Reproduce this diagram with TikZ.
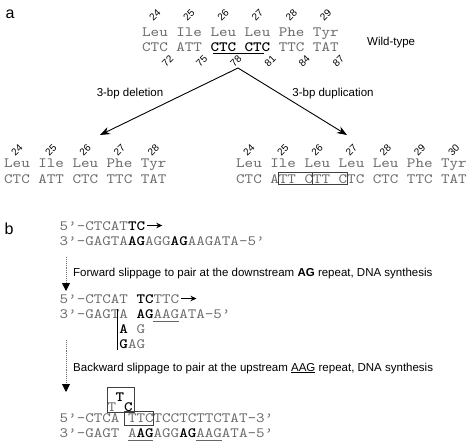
\documentclass[tikz,border=0pt]{standalone}
\usepackage{fontspec}
\setmainfont{Liberation Sans}
\newfontfamily\monof[Extension=.otf, UprightFont=lmmono10-regular, BoldFont=lmmonolt10-bold, FakeStretch=1.1455]{lmmono10-regular}
\usetikzlibrary{arrows.meta}
\def\cw{8.54}
\newcommand\bk[1]{\textbf{\color{black}#1}}
\tikzset{
  seq/.style={inner sep=0, anchor=base west, font=\monof\fontsize{14.2}{16}\selectfont, text=black!58},
  num/.style={inner sep=0, font=\fontsize{10}{12}\selectfont, rotate=45},
  lab/.style={inner sep=0, anchor=base west, font=\fontsize{11.5}{13}\selectfont},
  biglab/.style={inner sep=0, font=\fontsize{16}{18}\selectfont},
  mut/.style={-{Stealth[length=10pt,width=7.5pt]}, line width=0.9pt},
  slip/.style={densely dotted, line width=0.9pt, draw=black!55, -{Triangle[length=8pt,width=8pt,color=black]}},
  fwd/.style={-{Stealth[length=6pt,width=5.5pt]}, line width=0.9pt},
  boxed/.style={draw=black!75, line width=0.9pt},
  uline/.style={draw=black!60, line width=0.7pt}
}
\begin{document}
\begin{tikzpicture}[x=1pt,y=-1pt]
\useasboundingbox (0,0) rectangle (474,447);
% ---------- part a ----------
\node[biglab] (la) at (10,14) {a};
\foreach \n [count=\i from 0] in {24,25,26,27,28,29}
  \node[num] (ta\n) at ({142+(4*\i+1.5)*\cw},15) {\n};
\node[seq] (wtaa) at (142,36) {Leu Ile Leu Leu Phe Tyr};
\node[seq] (wtnt) at (142,51) {CTC ATT \bk{CTC CTC} TTC TAT};
\draw[line width=0.8pt] (213,53.5) -- (264,53.5);
\foreach \n [count=\i from 0] in {72,75,78,81,84,87}
  \node[num] (bn\n) at ({142+(4*\i+3)*\cw},61) {\n};
\node[lab, anchor=west] (wt) at (367,43) {Wild-type};
\coordinate (apex) at (238,68);
\coordinate (dl) at (100,135);
\coordinate (dp) at (347,135);
\draw[mut] (apex) -- (dl);
\draw[mut] (apex) -- (dp);
\node[lab, anchor=center] (ldel) at (130,94) {3-bp deletion};
\node[lab, anchor=center] (ldup) at (333,94) {3-bp duplication};
% deletion
\foreach \n [count=\i from 0] in {24,25,26,27,28}
  \node[num] (bl\n) at ({4+(4*\i+1.5)*\cw},150) {\n};
\node[seq] (delaa) at (4,167) {Leu Ile Leu Phe Tyr};
\node[seq] (delnt) at (4,183) {CTC ATT CTC TTC TAT};
% duplication
\foreach \n [count=\i from 0] in {24,25,26,27,28,29,30}
  \node[num] (br\n) at ({236+(4*\i+1.5)*\cw},150) {\n};
\node[seq] (dupaa) at (236,167) {Leu Ile Leu Leu Leu Phe Tyr};
\node[seq] (dupnt) at (236,183) {CTC ATT CTT CTC CTC TTC TAT};
\draw[boxed] ({236+5*\cw},172) rectangle ({236+9*\cw},184.5);
\draw[boxed] ({236+9*\cw},172) rectangle ({236+13*\cw},184.5);
% ---------- part b ----------
\node[biglab] (lb) at (9,229) {b};
\node[seq] (r1) at (59.5,230) {5’-CTCAT\bk{TC}};
\draw[fwd] ([xshift=2pt,yshift=4.5pt]r1.base east) -- ++(15,0);
\node[seq] (r2) at (59.5,245) {3’-GAGTA\bk{AG}AGG\bk{AG}AAGATA-5’};
\coordinate (s1a) at (66,257);
\coordinate (s1b) at (66,291);
\draw[slip] (s1a) -- (s1b);
\node[lab] (t1) at (73,276) {Forward slippage to pair at the downstream \textbf{AG} repeat, DNA synthesis};
\node[seq] (r3) at (59.5,303) {5’-CTCAT \bk{TC}TTC};
\draw[fwd] ([xshift=2pt,yshift=4.5pt]r3.base east) -- ++(15,0);
\node[seq] (r4) at (59.5,318) {3’-GAGTA \bk{AG}AAGATA-5’};
\draw[uline] ({59.5+11*\cw},321) -- ({59.5+14*\cw},321);
\node[seq] (b1) at ({59.5+7*\cw},333) {\bk{A} G};
\node[seq] (b2) at ({59.5+7*\cw},348) {\bk{G}AG};
\draw[line width=1pt] ({59.5+7*\cw-1.5},309) -- ({59.5+7*\cw-1.5},350);
\coordinate (s2a) at (66,340);
\coordinate (s2b) at (66,392);
\draw[slip] (s2a) -- (s2b);
\node[lab] (t2) at (73,371) {Backward slippage to pair at the upstream \underline{AAG} repeat, DNA synthesis};
\draw[boxed] (107,387) rectangle (134,412);
\node[seq, anchor=base] (tc1) at (120,401) {\bk{T}};
\node[seq, anchor=base] (tc2) at (112,411) {T};
\node[seq, anchor=base] (tc3) at (128.5,411) {\bk{C}};
\node[seq] (r5) at (59.5,422) {5’-CTCA TTCTCCTCTTCTAT-3’};
\draw[boxed] (124.5,411) rectangle (153.5,425);
\node[seq] (r6) at (59.5,437) {3’-GAGT A\bk{AG}AGG\bk{AG}AAGATA-5’};
\draw[uline] ({59.5+8*\cw},440) -- ({59.5+11*\cw},440);
\draw[uline] ({59.5+16*\cw},440) -- ({59.5+19*\cw},440);
\end{tikzpicture}
\end{document}
